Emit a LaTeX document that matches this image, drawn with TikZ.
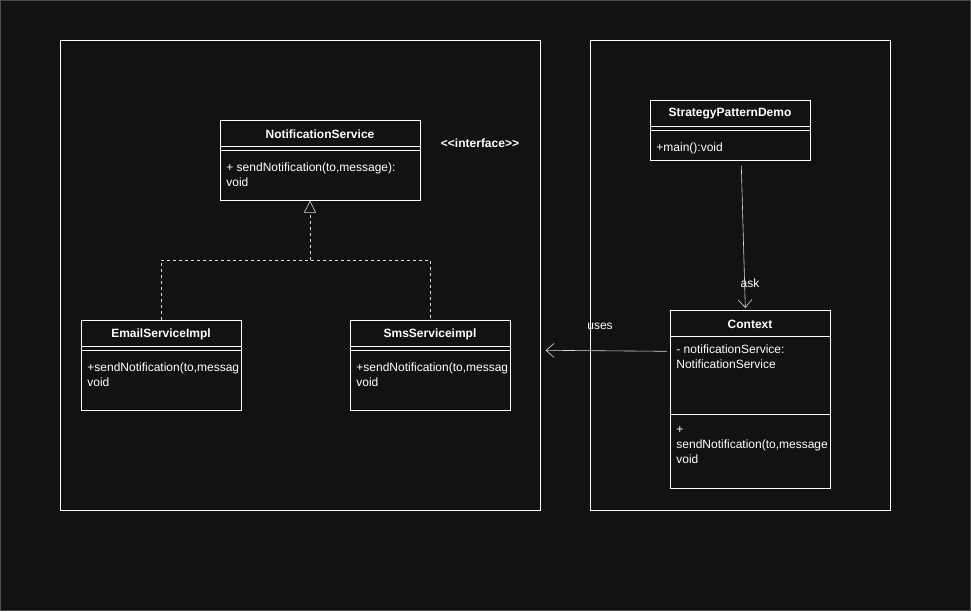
\documentclass[tikz,border=0pt]{standalone}
\usepackage{fontspec}
\setmainfont{Liberation Sans}
\usetikzlibrary{positioning, arrows.meta, calc}

\begin{document}
\begin{tikzpicture}[x=1pt, y=-1pt, thick, white, font=\fontsize{12}{14}\selectfont,
        box/.style = {draw=white, line width=0.6pt, anchor=north west, inner sep=0pt},
        title/.style = {font=\fontsize{12}{14}\selectfont\bfseries},
        body/.style = {anchor=north west, align=left, inner sep=0pt, font=\fontsize{12}{15}\selectfont},
        link/.style = {draw=white!85!black, line width=0.6pt}]
    \tikzstyle{frame} = [box, draw=white]
    \fill[black!93] (0,0) rectangle (971,611);
    \draw[black!70, line width=0.6pt] (0.5,0.5) rectangle (970.5,610.5);
    \useasboundingbox (0,0) rectangle (971,611);

    % frames
    \node[frame, minimum width=480, minimum height=470] (left) at (60,40) {};
    \node[frame, minimum width=300, minimum height=470] (right) at (590,40) {};

    % interface
    \node[box, minimum width=200, minimum height=80] (ns) at (220,120) {};
    \node[title] at (320,134) {NotificationService};
    \draw[line width=0.6pt] (220,146) -- (420,146) (220,150) -- (420,150);
    \node[body] at (226,162) {+ sendNotification(to,message):\\void};
    \node[title] at (480,143) {<{}<interface>{}>};

    % implementations
    \node[box, minimum width=160, minimum height=90] (email) at (81,320) {};
    \node[title] at (161,334) {EmailServiceImpl};
    \draw[line width=0.6pt] (81,346) -- (241,346) (81,350) -- (241,350);
    \node[body] at (87,362) {+sendNotification(to,messag\\void};

    \node[box, minimum width=160, minimum height=90] (sms) at (350,320) {};
    \node[title] at (430,334) {SmsServiceimpl};
    \draw[line width=0.6pt] (350,346) -- (510,346) (350,350) -- (510,350);
    \node[body] at (356,362) {+sendNotification(to,messag\\void};

    % client side
    \node[box, minimum width=160, minimum height=60] (demo) at (650,100) {};
    \node[title] at (730,114) {StrategyPatternDemo};
    \draw[line width=0.6pt] (650,126) -- (810,126) (650,130) -- (810,130);
    \node[body] at (656,142) {+main():void};

    \node[box, minimum width=160, minimum height=178] (ctx) at (670,310) {};
    \node[title] at (750,324) {Context};
    \draw[line width=0.6pt] (670,336) -- (830,336) (670,414) -- (830,414);
    \node[body] at (676,344) {- notificationService:\\NotificationService};
    \node[body] at (676,426) {+\\sendNotification(to,message\\void};

    % connectors
    \coordinate (join) at (310,260);
    \draw[link, dashed] (email.north) |- (join) -| (sms.north);
    \draw[link, dashed, -{Triangle[open, length=12pt, width=12pt]}] (join) -- (ns.south -| join);
    \draw[link, -{Straight Barb[length=8pt, width=14pt]}] ($(demo.south)+(11,5)$) -- ($(ctx.north)+(-5,-2)$);
    \node at (750,283) {ask};
    \draw[link, -{Straight Barb[length=8pt, width=14pt]}] ($(ctx.west)+(-3,-48)$) -- ($(left.east)+(5,75)$);
    \node at (600,326) {uses};
\end{tikzpicture}
\end{document}
